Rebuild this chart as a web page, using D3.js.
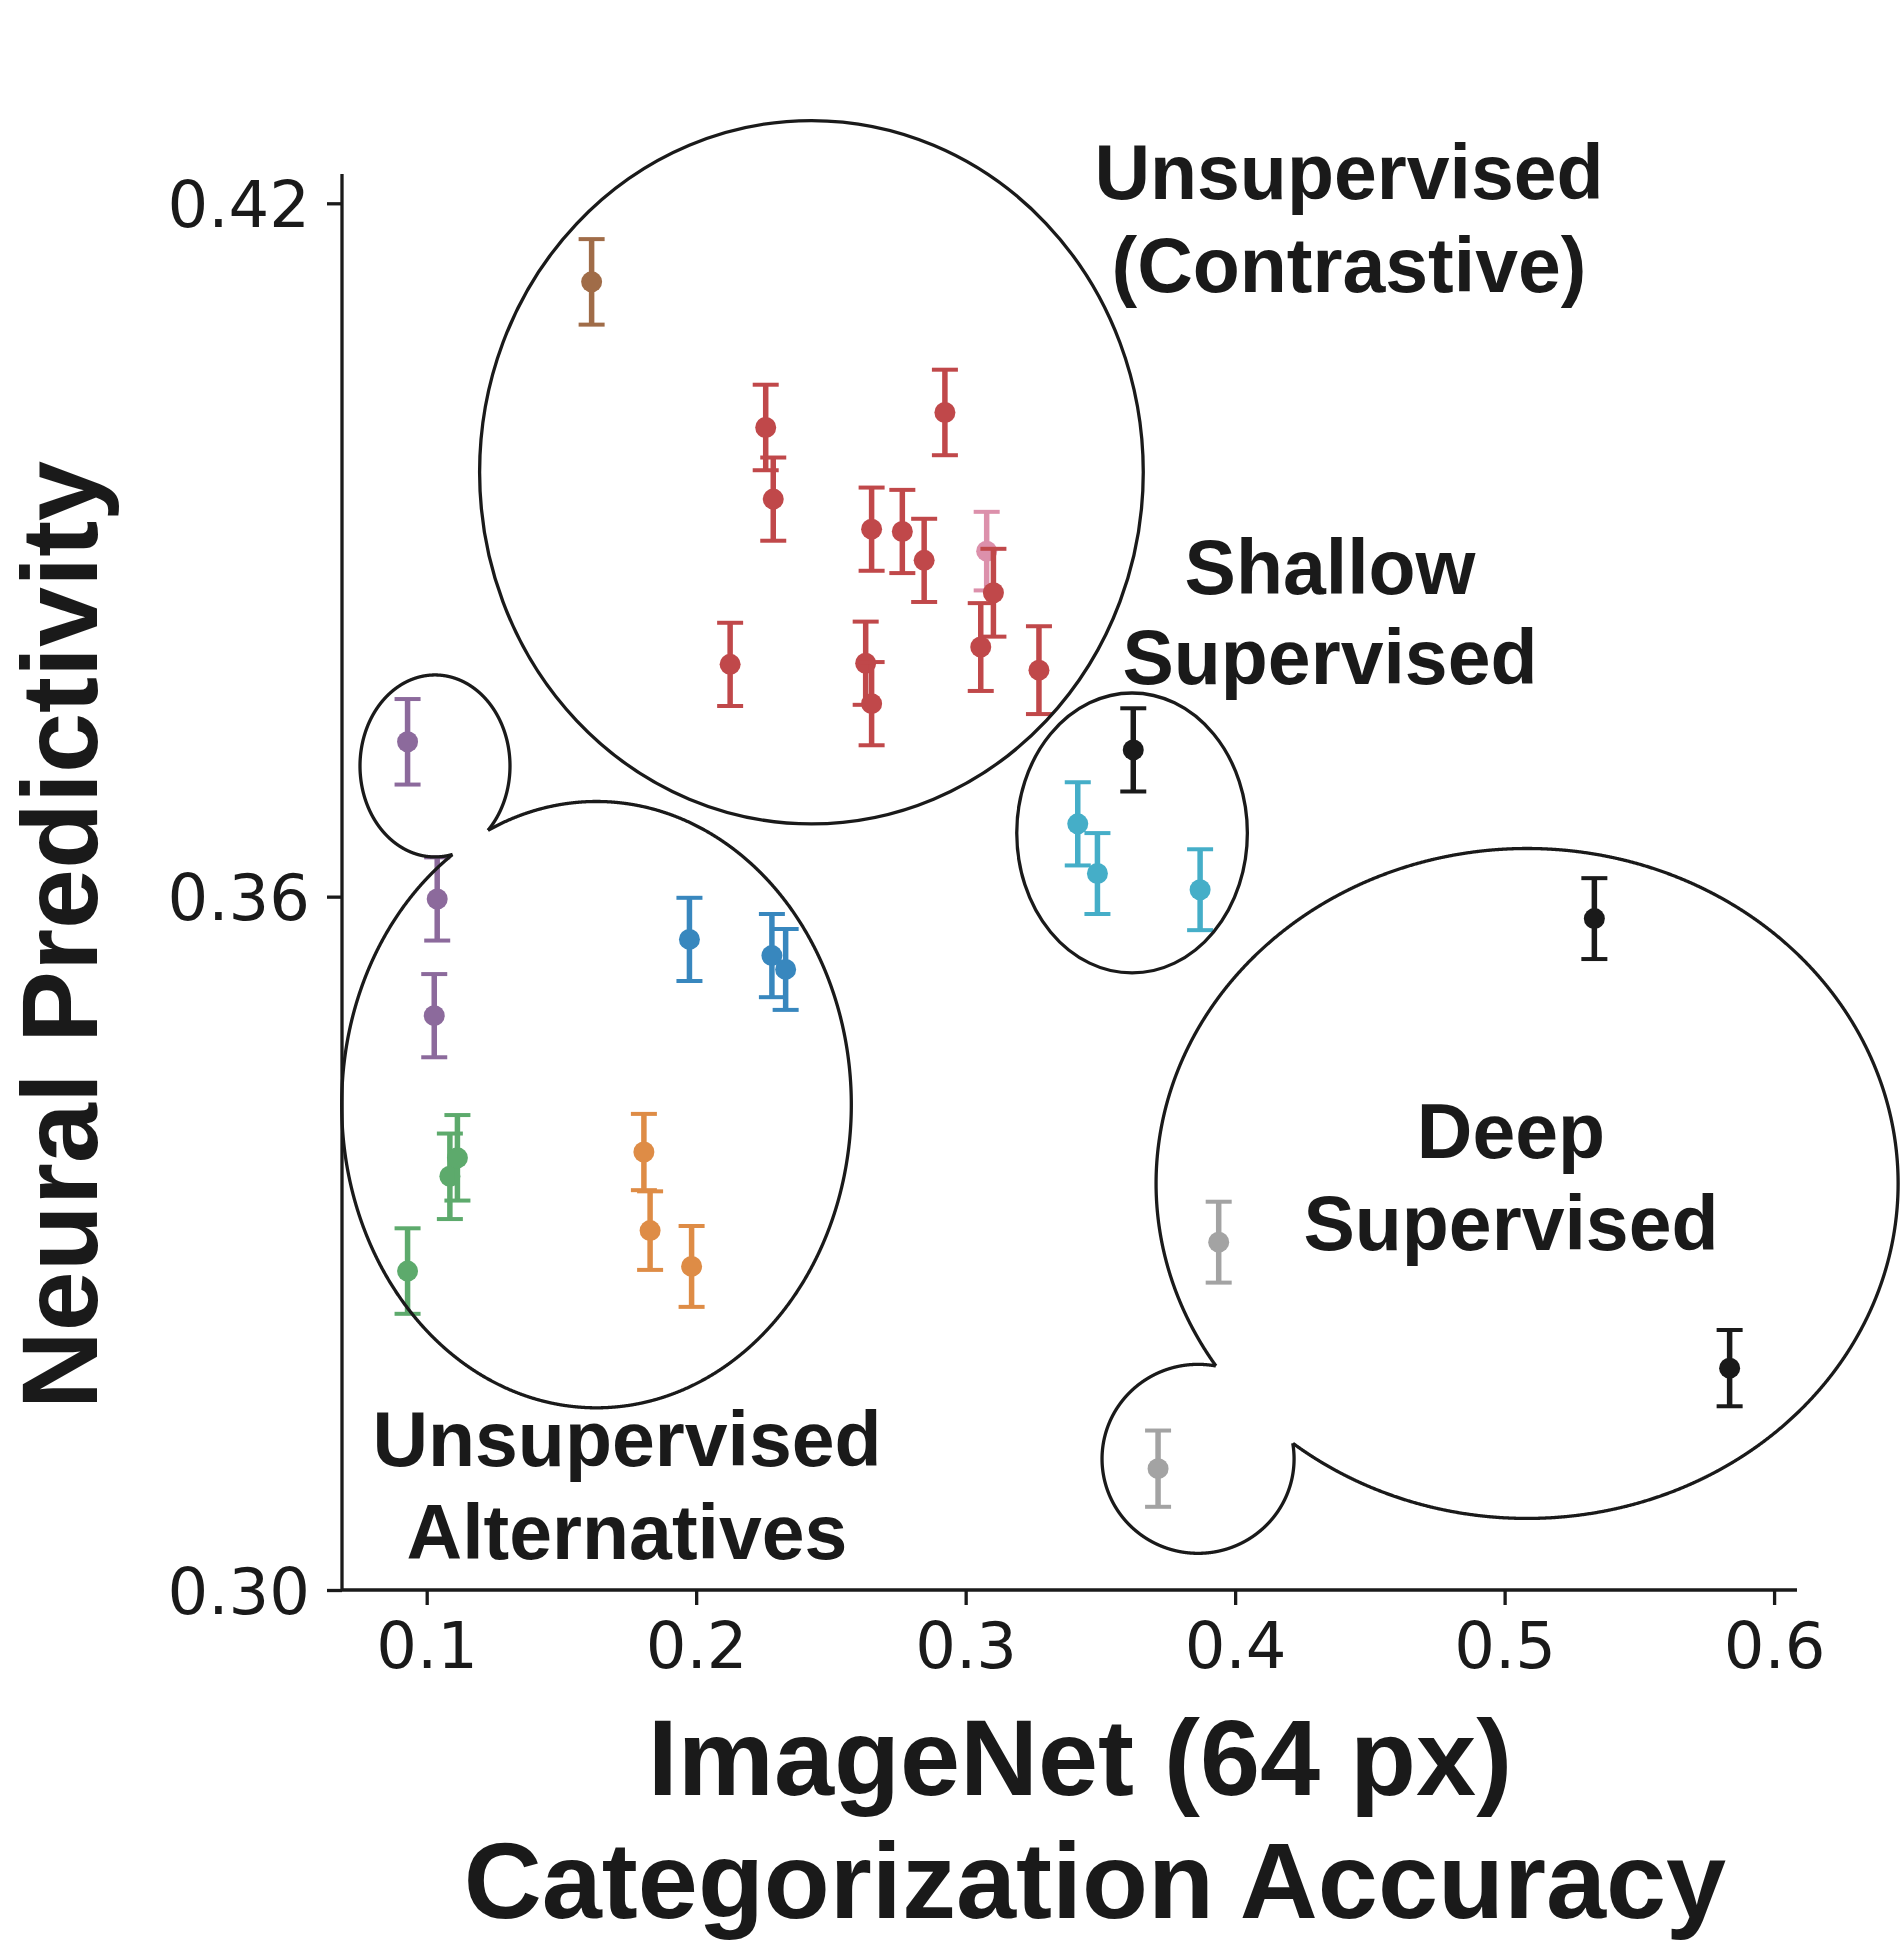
<!DOCTYPE html>
<html>
<head>
<meta charset="utf-8">
<script src="https://cdn.jsdelivr.net/npm/d3@7"></script>
<style>
  html, body { margin: 0; padding: 0; background: #ffffff; }
  svg { display: block; }
</style>
</head>
<body>
<svg id="chart" width="1900" height="1948"></svg>
<script>
// ---------------- data ----------------
const xTicks = [0.1, 0.2, 0.3, 0.4, 0.5, 0.6];
const yTicks = [0.30, 0.36, 0.42];
const xTickLabels = ["0.1", "0.2", "0.3", "0.4", "0.5", "0.6"];
const yTickLabels = ["0.30", "0.36", "0.42"];

const brownX = [0.1612];
const brownY = [0.4132];
const brownErr = [0.0037];

const pinkX = [0.3078];
const pinkY = [0.3899];
const pinkErr = [0.0034];

const redX = [0.2258, 0.2286, 0.2923, 0.2651, 0.2765, 0.2846, 0.3103, 0.3056, 0.3272, 0.2126, 0.2629, 0.2651];
const redY = [0.4006, 0.3944, 0.4019, 0.3918, 0.3916, 0.3891, 0.3863, 0.3816, 0.3796, 0.3801, 0.3802, 0.3767];
const redErr = [0.0037, 0.0036, 0.0037, 0.0036, 0.0036, 0.0036, 0.0038, 0.0038, 0.0038, 0.0036, 0.0036, 0.0036];

const purpleX = [0.0929, 0.1039, 0.1028];
const purpleY = [0.3734, 0.3598, 0.3497];
const purpleErr = [0.0037, 0.0036, 0.0036];

const greenX = [0.0929, 0.1086, 0.1114];
const greenY = [0.3276, 0.3358, 0.3374];
const greenErr = [0.0037, 0.0037, 0.0037];

const orangeX = [0.1806, 0.1829, 0.1983];
const orangeY = [0.3379, 0.3311, 0.3280];
const orangeErr = [0.0033, 0.0034, 0.0035];

const blueX = [0.1975, 0.2281, 0.2332];
const blueY = [0.3563, 0.3549, 0.3537];
const blueErr = [0.0036, 0.0036, 0.0035];

const cyanX = [0.3416, 0.3489, 0.3870];
const cyanY = [0.3663, 0.3620, 0.3606];
const cyanErr = [0.0036, 0.0035, 0.0035];

const grayX = [0.3939, 0.3714];
const grayY = [0.3301, 0.3105];
const grayErr = [0.0035, 0.0033];

const blackX = [0.3622, 0.5333, 0.5835];
const blackY = [0.3727, 0.3581, 0.3192];
const blackErr = [0.0036, 0.0035, 0.0033];

// annotation bubbles (data units): cx, cy, rx, ry
const bubbleContrastive = [0.24277, 0.39673, 0.12314, 0.030432];
const bubbleShallow     = [0.36175, 0.36551, 0.04279, 0.012114];
const bubbleAltSmall    = [0.10308, 0.37131, 0.02783, 0.007874];
const bubbleAltBig      = [0.16301, 0.34200, 0.09456, 0.026235];
const bubbleDeepBig     = [0.50834, 0.33518, 0.13768, 0.028987];
const bubbleDeepSmall   = [0.38624, 0.31135, 0.03563, 0.008177];

const labelContrastive = ["Unsupervised", "(Contrastive)"];
const labelShallow = ["Shallow", "Supervised"];
const labelDeep = ["Deep", "Supervised"];
const labelAlt = ["Unsupervised", "Alternatives"];
const xTitle = ["ImageNet (64 px)", "Categorization Accuracy"];
const yTitle = "Neural Predictivity";

// ---------------- styles ----------------
const ink = "#1a1a1a";
const colors = {
  brown: "#a06c48", pink: "#dc90ab", red: "#c0484a", purple: "#8c6a9c",
  green: "#5daa6c", orange: "#de8c46", blue: "#3887be", cyan: "#45aec8",
  gray: "#a3a3a3", black: "#1a1a1a"
};

const svg = d3.select("#chart");
svg.append("rect").attr("width", 1900).attr("height", 1948).attr("fill", "#fff");

const x = d3.scaleLinear().domain([0.06857, 0.6085]).range([342, 1797]);
const y = d3.scaleLinear().domain([0.30, 0.422535]).range([1590, 174]);

// ---------------- axes ----------------
const xAxis = d3.axisBottom(x).tickValues(xTicks).tickSize(15).tickPadding(14)
  .tickFormat((d, i) => xTickLabels[i]);
const yAxis = d3.axisLeft(y).tickValues(yTicks).tickSize(15).tickPadding(17)
  .tickFormat((d, i) => yTickLabels[i]);

const gx = svg.append("g").attr("transform", "translate(0,1590)").call(xAxis);
const gy = svg.append("g").attr("transform", "translate(342,0)").call(yAxis);
[gx, gy].forEach(g => {
  g.select(".domain").attr("stroke", ink).attr("stroke-width", 3.3);
  g.selectAll(".tick line").attr("stroke", ink).attr("stroke-width", 3.3);
  g.selectAll(".tick text").attr("fill", ink)
    .style("font-family", "'DejaVu Sans', sans-serif").style("font-size", "64px");
});
gx.select(".domain").attr("d", `M${x.range()[0]},0H${x.range()[1]}`);
gy.select(".domain").attr("d", `M0,${y.range()[0]}V${y.range()[1]}`);
gx.selectAll(".tick text").attr("dy", "0.76em");
gy.selectAll(".tick text").attr("dy", "0.36em");

// ---------------- error bars ----------------
const seriesList = [
  ["brown", brownX, brownY, brownErr],
  ["pink", pinkX, pinkY, pinkErr],
  ["red", redX, redY, redErr],
  ["purple", purpleX, purpleY, purpleErr],
  ["green", greenX, greenY, greenErr],
  ["orange", orangeX, orangeY, orangeErr],
  ["blue", blueX, blueY, blueErr],
  ["cyan", cyanX, cyanY, cyanErr],
  ["gray", grayX, grayY, grayErr],
  ["black", blackX, blackY, blackErr]
];

const pts = svg.append("g");
seriesList.forEach(([name, xs, ys, es]) => {
  const c = colors[name];
  const g = pts.append("g");
  xs.forEach((xv, i) => {
    const px = x(xv), yl = y(ys[i] - es[i]), yh = y(ys[i] + es[i]);
    const pt = g.append("g");
    pt.append("line").attr("x1", px).attr("x2", px).attr("y1", yl).attr("y2", yh)
      .attr("stroke", c).attr("stroke-width", 5.5);
    [yl, yh].forEach(yy => {
      pt.append("line").attr("x1", px - 13).attr("x2", px + 13).attr("y1", yy).attr("y2", yy)
        .attr("stroke", c).attr("stroke-width", 4);
    });
    pt.append("circle").attr("cx", px).attr("cy", y(ys[i])).attr("r", 10.5).attr("fill", c);
  });
});

// ---------------- bubbles ----------------
function toPx(b) {
  return { cx: x(b[0]), cy: y(b[1]), rx: x(b[0] + b[2]) - x(b[0]), ry: y(b[1]) - y(b[1] + b[3]) };
}
const bub = svg.append("g").attr("fill", "none").attr("stroke", ink).attr("stroke-width", 3.3);

function drawEllipse(b) {
  const e = toPx(b);
  bub.append("ellipse").attr("cx", e.cx).attr("cy", e.cy).attr("rx", e.rx).attr("ry", e.ry);
}
function outsideRuns(a, b) {
  const N = 3000, p = [];
  for (let k = 0; k < N; k++) {
    const t = 2 * Math.PI * k / N;
    const px = a.cx + a.rx * Math.cos(t), py = a.cy + a.ry * Math.sin(t);
    const v = ((px - b.cx) / b.rx) ** 2 + ((py - b.cy) / b.ry) ** 2;
    p.push({ x: px, y: py, out: v >= 1 });
  }
  let start = p.findIndex(q => !q.out);
  if (start < 0) return [p.concat([p[0]])];
  const runs = []; let cur = null;
  for (let j = 1; j <= N; j++) {
    const q = p[(start + j) % N];
    if (q.out) { if (!cur) { cur = []; runs.push(cur); } cur.push(q); }
    else cur = null;
  }
  return runs;
}
function drawUnion(b1, b2) {
  const e1 = toPx(b1), e2 = toPx(b2);
  const line = d3.line().x(d => d.x).y(d => d.y);
  outsideRuns(e1, e2).concat(outsideRuns(e2, e1)).forEach(r => {
    bub.append("path").attr("d", line(r)).attr("stroke-linejoin", "round");
  });
}
drawEllipse(bubbleContrastive);
drawEllipse(bubbleShallow);
drawUnion(bubbleAltSmall, bubbleAltBig);
drawUnion(bubbleDeepBig, bubbleDeepSmall);

// ---------------- labels ----------------
const lab = svg.append("g").attr("fill", ink)
  .style("font-family", "'Liberation Sans', Arial, sans-serif").style("font-weight", "bold");
function twoLine(lines, cx, b1, b2, size) {
  [b1, b2].forEach((bb, i) => {
    lab.append("text").attr("x", cx).attr("y", bb).attr("text-anchor", "middle")
      .style("font-size", size + "px").text(lines[i]);
  });
}
twoLine(labelContrastive, 1349, 199, 292, 77);
twoLine(labelShallow, 1330, 594, 684, 77);
twoLine(labelDeep, 1511, 1158, 1250, 77);
twoLine(labelAlt, 627, 1466, 1559, 77);

lab.append("text").attr("x", 1080).attr("y", 1795).attr("text-anchor", "middle")
  .style("font-size", "108px").text(xTitle[0]);
lab.append("text").attr("x", 1095).attr("y", 1918).attr("text-anchor", "middle")
  .style("font-size", "108px").text(xTitle[1]);
lab.append("text").attr("transform", "translate(97,935) rotate(-90)").attr("text-anchor", "middle")
  .style("font-size", "108px").text(yTitle);
</script>
</body>
</html>
